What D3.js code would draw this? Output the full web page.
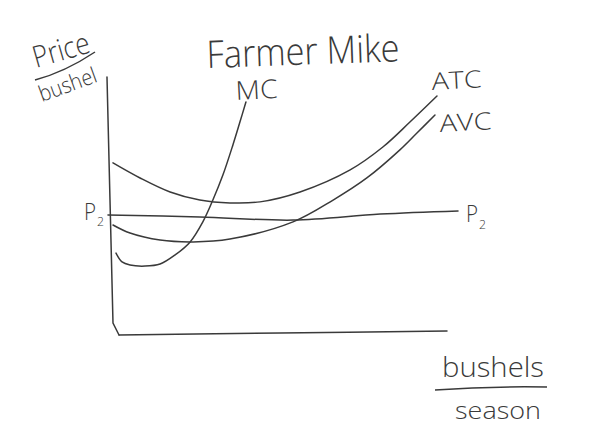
<!DOCTYPE html>
<html><head><meta charset="utf-8">
<script src="https://cdn.jsdelivr.net/npm/d3@7"></script>
<style>body{margin:0;background:#fff}svg{display:block}text{font-family:"Open Sans","Lato","DejaVu Sans",sans-serif;font-weight:300;fill:#3a3a3a}</style>
</head><body><svg id="c" width="609" height="442"></svg>
<script>
// Data (quantity units 0-100, price units 0-100)
const atcQ = [0, 8.1, 17.1, 26, 35, 44, 56, 71, 80.8, 88.9, 97];
const atcP = [66.2, 60.4, 55, 51.9, 50.8, 51.2, 55, 63.5, 72.3, 81.9, 91.9];
const avcQ = [0, 5.1, 14.1, 24, 35, 53.9, 65.9, 76, 85.9, 91, 96.4];
const avcP = [42.3, 39.2, 36.5, 35.8, 36.9, 43.5, 51.9, 60.4, 71.2, 77.7, 84.6];
const mcQ = [0.9, 2.7, 5.1, 9.6, 14.1, 18.6, 23.1, 26.9, 29.9, 32.9, 35.9, 38, 39.8];
const mcP = [31.5, 28.1, 26.9, 26.5, 27.3, 30.8, 35.8, 43.5, 51.9, 61.5, 73.1, 81.9, 89.6];
const p2Q = [-1.5, 26, 53.9, 80, 103.3];
const p2P = [46.2, 45.4, 44.2, 46.5, 47.7];
const yAxisQ = [-1.8, -0.9, 0, 1.8];
const yAxisP = [99.2, 51.9, 4.6, 0];
const xAxisQ = [1.8, 50, 100];
const xAxisP = [0, 0.8, 1.5];

const svg = d3.select("#c");
const x = d3.scaleLinear().domain([0, 100]).range([113, 447]);
const y = d3.scaleLinear().domain([0, 100]).range([335, 75]);
const line = d3.line().x(d => x(d[0])).y(d => y(d[1])).curve(d3.curveCatmullRom);
const zip = (a, b) => a.map((v, i) => [v, b[i]]);

const ink = "#3a3a3a";
[[yAxisQ, yAxisP, d3.curveLinear], [xAxisQ, xAxisP, d3.curveCatmullRom]].forEach(([q, p, c]) => {
  svg.append("path").attr("d", d3.line().x(d => x(d[0])).y(d => y(d[1])).curve(c)(zip(q, p)))
    .attr("fill", "none").attr("stroke", ink).attr("stroke-width", 1.5).attr("stroke-linecap", "round");
});
[[atcQ, atcP], [avcQ, avcP], [mcQ, mcP], [p2Q, p2P]].forEach(([q, p]) => {
  svg.append("path").attr("d", line(zip(q, p)))
    .attr("fill", "none").attr("stroke", ink).attr("stroke-width", 1.5).attr("stroke-linecap", "round");
});

function txt(s, px, py, size, len, rot) {
  const t = svg.append("text").attr("x", px).attr("y", py).attr("font-size", size).text(s);
  if (len) t.attr("textLength", len).attr("lengthAdjust", "spacingAndGlyphs");
  if (rot) t.attr("transform", `rotate(${rot},${px},${py})`);
  return t;
}
txt("Farmer Mike", 207, 68, 38, 193, -2);
txt("MC", 236, 100, 26, 42, -3);
txt("ATC", 432, 90, 24, 50, -3);
txt("AVC", 440, 132, 24, 52, -3);
txt("P", 84, 220, 24, 12, 0); txt("2", 97, 226, 12, 7, 0);
txt("P", 466, 222, 24, 12, 0); txt("2", 479, 229, 12, 7, 0);
txt("Price", 36, 68, 30, 58, -16);
txt("bushel", 42, 102, 22, 60, -20);
svg.append("path").attr("d", "M35,80 Q65,72 95,52").attr("fill", "none").attr("stroke", ink).attr("stroke-width", 1.5);
txt("bushels", 442, 377, 28, 102, 0);
svg.append("path").attr("d", "M435,390 Q490,386 547,387").attr("fill", "none").attr("stroke", ink).attr("stroke-width", 1.5);
txt("season", 455, 419, 24, 86, 0);
</script></body></html>
